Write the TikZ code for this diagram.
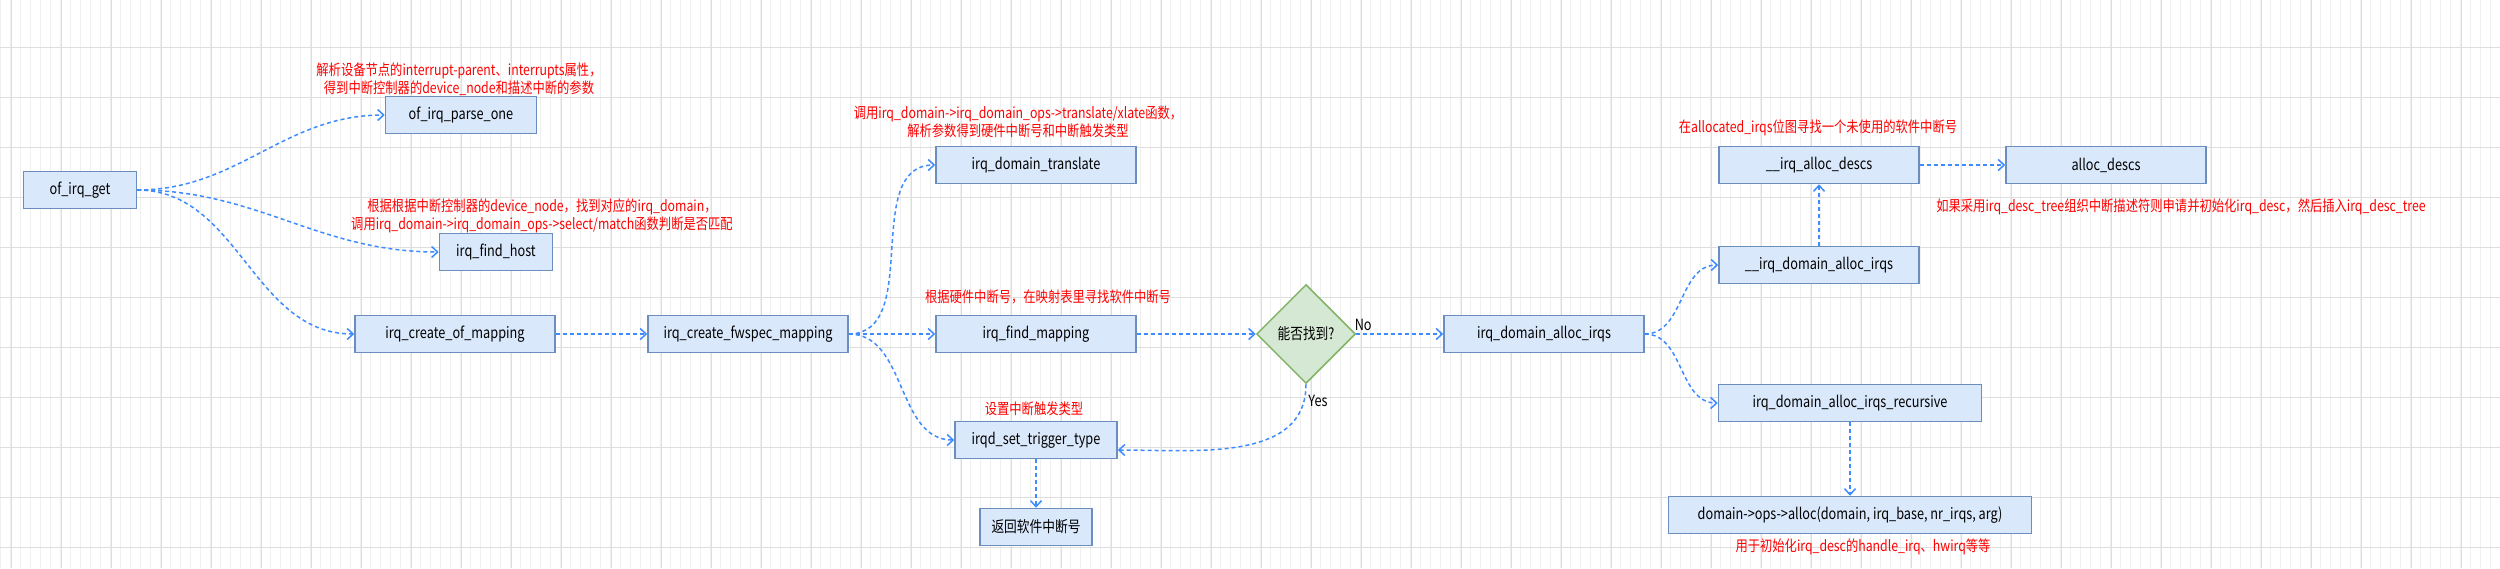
\documentclass[tikz,border=0pt]{standalone}
\usepackage{fontspec}
\setmainfont{Noto Sans CJK SC}[FakeStretch=0.82]
\usetikzlibrary{shapes.geometric,arrows.meta}
\definecolor{boxfill}{HTML}{DAE8FC}
\definecolor{boxline}{HTML}{6C8EBF}
\definecolor{diafill}{HTML}{D5E8D4}
\definecolor{dialine}{HTML}{82B366}
\definecolor{arrblue}{HTML}{3D8BFF}
\tikzset{
  fn/.style={draw=boxline, fill=boxfill, line width=0.6pt, minimum height=14.8pt, inner sep=1pt, font=\fontsize{6.2}{7}\selectfont},
  note/.style={text=red, align=center, font=\fontsize{6}{7.2}\selectfont, inner sep=0pt},
  arr/.style={draw=arrblue, line width=0.6pt, dash pattern=on 1.6pt off 1.2pt, -{Straight Barb[length=2.4pt,width=4.4pt]}},
}
\begin{document}
\begin{tikzpicture}[x=0.4pt,y=-0.4pt]
\useasboundingbox (0,0) rectangle (2500,568);
% grid
\draw[black!6, line width=0.2pt] (0,0) grid[step=10] (2500,568);
\foreach \gx in {11,61,...,2500} \draw[black!13, line width=0.3pt] (\gx,0) -- (\gx,568);
\foreach \gy in {47,97,...,568} \draw[black!13, line width=0.3pt] (0,\gy) -- (2500,\gy);

% function boxes
\node[fn, minimum width=45.2pt] (get) at (80,190) {of\_irq\_get};
\node[fn, minimum width=60.4pt] (parse) at (461,115) {of\_irq\_parse\_one};
\node[fn, minimum width=45.2pt] (host) at (496,252) {irq\_find\_host};
\node[fn, minimum width=80pt] (ofmap) at (455,334) {irq\_create\_of\_mapping};
\node[fn, minimum width=80pt] (fwmap) at (748,334) {irq\_create\_fwspec\_mapping};
\node[fn, minimum width=80pt] (xlate) at (1036,165) {irq\_domain\_translate};
\node[fn, minimum width=80pt] (findmap) at (1036,334) {irq\_find\_mapping};
\node[fn, minimum width=64.8pt] (trig) at (1036,440) {irqd\_set\_trigger\_type};
\node[fn, minimum width=44.8pt] (ret) at (1036,527) {返回软件中断号};
\node[diamond, draw=dialine, fill=diafill, line width=0.6pt, minimum width=39.6pt, minimum height=39.6pt, inner sep=0pt, font=\fontsize{6.2}{7}\selectfont] (found) at (1306,334) {能否找到?};
\node[fn, minimum width=80pt] (alloc) at (1544,334) {irq\_domain\_alloc\_irqs};
\node[fn, minimum width=80pt] (ialloc) at (1819,265) {\_\_irq\_domain\_alloc\_irqs};
\node[fn, minimum width=80pt] (descs) at (1819,165) {\_\_irq\_alloc\_descs};
\node[fn, minimum width=80pt] (adescs) at (2106,165) {alloc\_descs};
\node[fn, minimum width=105.2pt] (recur) at (1850,403) {irq\_domain\_alloc\_irqs\_recursive};
\node[fn, minimum width=145.2pt] (ops) at (1850,515) {domain->ops->alloc(domain, irq\_base, nr\_irqs, arg)};

% notes
\node[note] (n1) at (459,79) {解析设备节点的interrupt-parent、interrupts属性，\\得到中断控制器的device\_node和描述中断的参数};
\node[note] (n2) at (542,216) {根据根据中断控制器的device\_node，找到对应的irq\_domain，\\调用irq\_domain->irq\_domain\_ops->select/match函数判断是否匹配};
\node[note] (n3) at (1018,122) {调用irq\_domain->irq\_domain\_ops->translate/xlate函数，\\解析参数得到硬件中断号和中断触发类型};
\node[note] (n4) at (1048,297) {根据硬件中断号，在映射表里寻找软件中断号};
\node[note] (n5) at (1034,409) {设置中断触发类型};
\node[note] (n6) at (1818,128) {在allocated\_irqs位图寻找一个未使用的软件中断号};
\node[note] (n7) at (2181,207) {如果采用irq\_desc\_tree组织中断描述符则申请并初始化irq\_desc，然后插入irq\_desc\_tree};
\node[note] (n8) at (1863,547) {用于初始化irq\_desc的handle\_irq、hwirq等等};

% connectors
\draw[arr] (get.east) to[out=0,in=180] (parse.west);
\draw[arr] (get.east) to[out=0,in=180] (host.west);
\draw[arr] (get.east) to[out=0,in=180] (ofmap.west);
\draw[arr] (ofmap) -- (fwmap);
\draw[arr] (fwmap.east) to[out=0,in=180] (xlate.west);
\draw[arr] (fwmap) -- (findmap);
\draw[arr] (fwmap.east) to[out=0,in=180] (trig.west);
\draw[arr] (findmap) -- (found);
\draw[arr] (found) -- node[pos=0.08, above, inner sep=1pt, font=\fontsize{6.2}{7}\selectfont] {No} (alloc);
\draw[arr] (found.south) to[out=-90,in=0] node[pos=0.08, right, inner sep=1.5pt, font=\fontsize{6.2}{7}\selectfont] {Yes} ([yshift=-4pt]trig.east);
\draw[arr] (trig) -- (ret);
\draw[arr] (alloc.east) to[out=0,in=180] (ialloc.west);
\draw[arr] (alloc.east) to[out=0,in=180] (recur.west);
\draw[arr] (ialloc) -- (descs);
\draw[arr] (descs) -- (adescs);
\draw[arr] (recur) -- (ops);
\end{tikzpicture}
\end{document}
